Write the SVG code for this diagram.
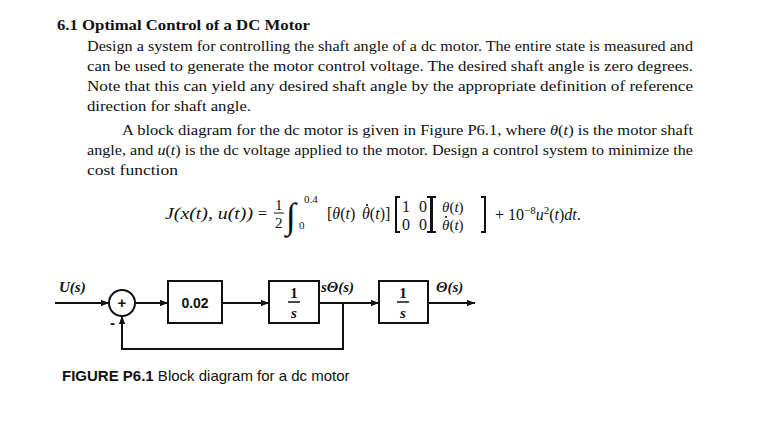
<svg xmlns="http://www.w3.org/2000/svg" width="761" height="435" viewBox="0 0 761 435">
<style>
text{font-family:"Liberation Serif",serif;fill:#111}
.b{font-size:15px}
.m{font-style:italic}
.s{font-family:"Liberation Sans",sans-serif}
.ln{stroke:#111;stroke-width:2;fill:none}
.bx{stroke:#111;stroke-width:2;fill:#fff}
</style>
<defs><marker id="a" viewBox="0 0 10 8" refX="10" refY="4" markerWidth="8" markerHeight="6.4" markerUnits="userSpaceOnUse" orient="auto"><path d="M0,0L10,4L0,8z" fill="#111"/></marker></defs>
<rect width="761" height="435" fill="#fff"/>
<text x="57" y="30" font-size="15" font-weight="bold" textLength="253" lengthAdjust="spacingAndGlyphs">6.1 Optimal Control of a DC Motor</text>
<text class="b" x="87" y="51" textLength="606" lengthAdjust="spacingAndGlyphs">Design a system for controlling the shaft angle of a dc motor. The entire state is measured and</text>
<text class="b" x="87" y="71" textLength="606" lengthAdjust="spacingAndGlyphs">can be used to generate the motor control voltage. The desired shaft angle is zero degrees.</text>
<text class="b" x="87" y="91" textLength="606" lengthAdjust="spacingAndGlyphs">Note that this can yield any desired shaft angle by the appropriate definition of reference</text>
<text class="b" x="87" y="111" textLength="164" lengthAdjust="spacingAndGlyphs">direction for shaft angle.</text>
<text class="b" x="122" y="135" textLength="571" lengthAdjust="spacingAndGlyphs">A block diagram for the dc motor is given in Figure P6.1, where <tspan class="m">θ</tspan>(<tspan class="m">t</tspan>) is the motor shaft</text>
<text class="b" x="87" y="155" textLength="606" lengthAdjust="spacingAndGlyphs">angle, and <tspan class="m">u</tspan>(<tspan class="m">t</tspan>) is the dc voltage applied to the motor. Design a control system to minimize the</text>
<text class="b" x="87" y="175" textLength="91" lengthAdjust="spacingAndGlyphs">cost function</text>
<g id="equation">
<text class="m" x="165" y="219" font-size="16" textLength="88" lengthAdjust="spacingAndGlyphs">J(x(t), u(t))</text>
<text x="258" y="219" font-size="16">=</text>
<text x="275" y="210" font-size="15">1</text><line x1="274" y1="213" x2="284" y2="213" stroke="#111"/><text x="275" y="228" font-size="15">2</text>
<text x="286" y="228" font-size="36">∫</text>
<text x="304" y="203" font-size="11">0.4</text><text x="299" y="229" font-size="11">0</text>
<text x="327" y="219" font-size="16">[<tspan class="m">θ</tspan>(<tspan class="m">t</tspan>)</text>
<text x="362" y="219" font-size="16"><tspan class="m">θ</tspan>(<tspan class="m">t</tspan>)]</text>
<circle cx="367" cy="205" r="1.1" fill="#111"/>
<path class="ln" stroke-width="1.5" d="M400,197h-4v35h4M427,197h4v35h-4M436,197h-4v35h4M481,197h4v35h-4"/>
<text x="402" y="212" font-size="16">1</text><text x="419" y="212" font-size="16">0</text>
<text x="402" y="230" font-size="16">0</text><text x="419" y="230" font-size="16">0</text>
<text x="442" y="212" font-size="15"><tspan class="m">θ</tspan>(<tspan class="m">t</tspan>)</text>
<text x="442" y="230" font-size="15"><tspan class="m">θ</tspan>(<tspan class="m">t</tspan>)</text>
<circle cx="446" cy="217" r="1.1" fill="#111"/>
<text x="495" y="220" font-size="16">+  10<tspan font-size="11" dy="-6">−8</tspan><tspan class="m" dy="6">u</tspan><tspan font-size="11" dy="-6">2</tspan><tspan dy="6">(</tspan><tspan class="m">t</tspan>)<tspan class="m">dt</tspan>.</text>
</g>
<g id="connectors">
<path class="ln" d="M55,303H109" marker-end="url(#a)"/>
<path class="ln" d="M135,303H168" marker-end="url(#a)"/>
<path class="ln" d="M222,303H269" marker-end="url(#a)"/>
<path class="ln" d="M319,303H379" marker-end="url(#a)"/>
<path class="ln" d="M428,303H475" marker-end="url(#a)"/>
<path class="ln" d="M343,303V349H122V316" marker-end="url(#a)"/>
</g>
<g id="sum"><circle class="bx" cx="122" cy="303" r="13"/><text x="122" y="308" font-size="15" font-weight="bold" text-anchor="middle" class="s">+</text><text x="110" y="328" font-size="15" font-weight="bold" class="s">-</text></g>
<g id="gain"><rect class="bx" x="168" y="281" width="54" height="42"/><text class="s" x="195" y="308" font-size="14" font-weight="bold" text-anchor="middle">0.02</text></g>
<g id="int1"><rect class="bx" x="269" y="281" width="50" height="42"/><text x="294" y="298" font-size="15" font-weight="bold" text-anchor="middle">1</text><line x1="288" y1="302" x2="300" y2="302" stroke="#111" stroke-width="1.5"/><text x="294" y="318" font-size="15" font-weight="bold" font-style="italic" text-anchor="middle">s</text></g>
<g id="int2"><rect class="bx" x="379" y="281" width="49" height="42"/><text x="403" y="298" font-size="15" font-weight="bold" text-anchor="middle">1</text><line x1="397" y1="302" x2="409" y2="302" stroke="#111" stroke-width="1.5"/><text x="403" y="318" font-size="15" font-weight="bold" font-style="italic" text-anchor="middle">s</text></g>
<text x="59" y="292" font-size="15" font-weight="bold" font-style="italic">U(s)</text>
<text x="321" y="292" font-size="15" font-weight="bold" font-style="italic">sΘ(s)</text>
<text x="436" y="292" font-size="15" font-weight="bold" font-style="italic">Θ(s)</text>
<text class="s" x="62" y="381" font-size="15"><tspan font-weight="bold">FIGURE P6.1</tspan>  Block diagram for a dc motor</text>
</svg>
